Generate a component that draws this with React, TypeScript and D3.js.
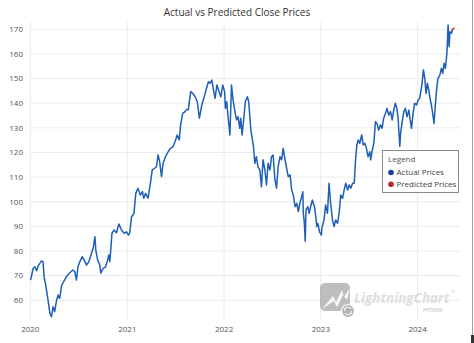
import React from "react";
import * as d3 from "d3";

const actualDates: string[] = [
  "2020-01-02","2020-01-12","2020-01-18","2020-01-25","2020-01-31","2020-02-12","2020-02-18","2020-02-22","2020-02-27","2020-03-06",
  "2020-03-15","2020-03-21","2020-03-27","2020-04-02","2020-04-09","2020-04-15","2020-04-21","2020-04-28","2020-05-08","2020-05-17",
  "2020-05-29","2020-06-10","2020-06-17","2020-06-23","2020-06-29","2020-07-06","2020-07-15","2020-07-22","2020-07-31","2020-08-09",
  "2020-08-17","2020-08-25","2020-09-01","2020-09-04","2020-09-11","2020-09-19","2020-09-23","2020-10-02","2020-10-11","2020-10-19",
  "2020-10-23","2020-10-27","2020-10-31","2020-11-04","2020-11-12","2020-11-21","2020-11-30","2020-12-10","2020-12-20","2020-12-29",
  "2021-01-05","2021-01-10","2021-01-17","2021-01-26","2021-02-02","2021-02-10","2021-02-19","2021-02-27","2021-03-04","2021-03-11",
  "2021-03-20","2021-03-29","2021-04-05","2021-04-14","2021-04-21","2021-04-27","2021-05-03","2021-05-10","2021-05-16","2021-05-25",
  "2021-06-04","2021-06-13","2021-06-23","2021-07-02","2021-07-08","2021-07-16","2021-07-21","2021-07-29","2021-08-07","2021-08-13",
  "2021-08-19","2021-08-28","2021-09-05","2021-09-14","2021-09-22","2021-09-30","2021-10-09","2021-10-18","2021-10-25","2021-11-03",
  "2021-11-09","2021-11-16","2021-11-22","2021-11-28","2021-12-05","2021-12-15","2021-12-20","2021-12-27","2022-01-03","2022-01-06",
  "2022-01-11","2022-01-16","2022-01-23","2022-01-29","2022-02-04","2022-02-10","2022-02-17","2022-02-23","2022-03-01","2022-03-05",
  "2022-03-10","2022-03-17","2022-03-22","2022-03-30","2022-04-04","2022-04-12","2022-04-16","2022-04-22","2022-04-27","2022-05-03",
  "2022-05-09","2022-05-16","2022-05-22","2022-05-28","2022-06-04","2022-06-10","2022-06-16","2022-06-23","2022-06-29","2022-07-05",
  "2022-07-12","2022-07-18","2022-07-24","2022-07-31","2022-08-06","2022-08-12","2022-08-19","2022-08-25","2022-08-31","2022-09-07",
  "2022-09-13","2022-09-19","2022-09-26","2022-10-02","2022-10-08","2022-10-15","2022-10-21","2022-10-25","2022-10-27","2022-10-31",
  "2022-11-03","2022-11-06","2022-11-13","2022-11-18","2022-11-25","2022-11-30","2022-12-08","2022-12-13","2022-12-17","2022-12-21",
  "2022-12-27","2023-01-03","2023-01-05","2023-01-13","2023-01-19","2023-01-26","2023-02-01","2023-02-07","2023-02-14","2023-02-20",
  "2023-02-26","2023-03-05","2023-03-11","2023-03-17","2023-03-24","2023-03-30","2023-04-05","2023-04-12","2023-04-18","2023-04-24",
  "2023-05-01","2023-05-07","2023-05-12","2023-05-17","2023-05-22","2023-05-28","2023-06-04","2023-06-10","2023-06-16","2023-06-22",
  "2023-06-28","2023-07-05","2023-07-08","2023-07-13","2023-07-20","2023-07-26","2023-08-01","2023-08-07","2023-08-14","2023-08-20",
  "2023-08-26","2023-09-02","2023-09-08","2023-09-14","2023-09-21","2023-09-27","2023-10-03","2023-10-09","2023-10-15","2023-10-19",
  "2023-10-26","2023-10-29","2023-11-03","2023-11-10","2023-11-16","2023-11-22","2023-11-29","2023-12-04","2023-12-09","2023-12-15",
  "2023-12-21","2023-12-28","2024-01-03","2024-01-09","2024-01-13","2024-01-18","2024-01-23","2024-01-28","2024-02-02","2024-02-07",
  "2024-02-12","2024-02-17","2024-02-22","2024-02-27","2024-03-03","2024-03-08","2024-03-13","2024-03-18","2024-03-25","2024-03-31",
  "2024-04-05","2024-04-10","2024-04-15","2024-04-20","2024-04-22","2024-04-25","2024-04-29","2024-05-02","2024-05-08","2024-05-11",
  "2024-05-17"
];

const actualValues: number[] = [
  68.2,73,73.6,72,74,76,75.7,69.6,66.9,61.5,
  54.7,53.3,57.4,55.4,60,62.1,60.8,66,68,69.7,
  71.2,72.3,71.6,68.2,73.6,75.7,77.7,76.4,74.3,75.7,
  78.4,81.1,85.8,80.4,76.4,74.3,71,73,73.6,76.4,
  78.4,75.7,81.1,87.2,88.5,87.4,91,88.5,87.2,87.8,
  86.5,87.4,93.9,95.3,103.4,105.5,102.7,104.1,101.4,103.4,
  101.4,107.5,112.9,113.6,114.2,119,116.3,110.2,115.6,118.3,
  120.3,121.7,122.4,125.1,127.1,125.1,131.2,135.9,136.6,137.5,
  137.3,144.7,144,142.6,140.6,133.9,139.3,142.6,145.4,148.7,
  148.1,149.4,145.4,142,147.4,144,142.6,147.4,144.7,137.9,
  140.6,134.5,127.1,147.4,141.3,137.2,133.2,134.5,129.8,133.9,
  127.1,134.5,140.6,142.6,140.6,129.1,126.4,122.4,115.6,118.3,
  114.2,112.9,106.1,117,112.9,106.8,115.6,112.9,118.3,119,
  108.8,105.5,114.2,118.3,117,121.7,117,113.6,110.2,110.9,
  104.8,102.7,98,99.4,96,100,102,104.1,95.3,91.2,
  84,96.7,98,95.3,98.7,100.7,98,93.9,89.9,91.2,
  87.8,86.5,89.2,92.6,98.7,95.3,107.5,99.4,92.6,89.9,
  92.6,91.2,95.3,102.7,101.4,104.8,107.5,104.8,106.8,105.5,
  107.5,107.5,117,123.1,125.1,123.7,127.1,123.1,123.7,121.7,
  118.3,120.3,117,120.3,123.7,132.5,131.8,129.1,131.2,129.8,
  133.9,135.9,137.9,135.2,136.6,133.2,137.2,140,137.9,134.5,
  122.4,127.8,131.8,136.6,137.9,134.5,137.2,133.2,129.8,135.9,
  140,139.3,141.3,142,144.7,148.1,153.5,150.1,144,148.1,
  145.4,142,139.3,135.9,131.8,139.3,146,150.1,151.4,154.2,
  152.1,156.2,154.2,159.6,163.6,171.7,162.9,169,168.4,169.7,
  170.4
];

const predictedDates: string[] = ["2024-05-08", "2024-05-13", "2024-05-20"];
const predictedValues: number[] = [169.4, 170.1, 170.6];

const yTicks: number[] = [60, 70, 80, 90, 100, 110, 120, 130, 140, 150, 160, 170];
const xTickLabels: string[] = ["2020", "2021", "2022", "2023", "2024"];

const W = 474;
const H = 343;
const FONT = "'Open Sans', 'Noto Sans', sans-serif";

export default function App() {
  const parse = d3.timeParse("%Y-%m-%d");
  const x = d3
    .scaleTime()
    .domain([parse("2020-01-01")!, parse("2024-06-09")!])
    .range([30.3, 460]);
  const y = d3.scaleLinear().domain([52, 173]).range([320, 21.9]);

  const actual = actualDates.map((d, i) => ({ d: parse(d)!, v: actualValues[i] }));
  const predicted = predictedDates.map((d, i) => ({ d: parse(d)!, v: predictedValues[i] }));
  const line = d3
    .line<{ d: Date; v: number }>()
    .x((p) => x(p.d))
    .y((p) => y(p.v));

  const xTicks = xTickLabels.map((t) => parse(`${t}-01-01`)!);
  const [x0, x1] = x.range();
  const [yb, yt] = y.range();

  return (
    <svg
      width={W}
      height={H}
      style={{ position: "absolute", left: 0, top: 0, background: "#fff" }}
    >
      <rect x={0} y={0} width={W} height={H} fill="#fff" />
      <text
        x={237}
        y={16}
        textAnchor="middle"
        fontFamily={FONT}
        fontSize={10}
        fill="#333"
      >
        Actual vs Predicted Close Prices
      </text>

      {/* grid */}
      {yTicks.map((t) => (
        <line key={`gy${t}`} x1={x0} x2={x1} y1={y(t)} y2={y(t)} stroke="#ebebeb" strokeWidth={1} />
      ))}
      {xTicks.map((t, i) => (
        <line key={`gx${i}`} x1={x(t)} x2={x(t)} y1={yt} y2={yb} stroke="#ebebeb" strokeWidth={1} />
      ))}

      {/* y labels */}
      {yTicks.map((t) => (
        <text
          key={`ly${t}`}
          x={23}
          y={y(t)}
          dy="0.35em"
          textAnchor="end"
          fontFamily={FONT}
          fontSize={8}
          fill="#555"
        >
          {t}
        </text>
      ))}
      {/* x labels */}
      {xTicks.map((t, i) => (
        <text
          key={`lx${i}`}
          x={x(t)}
          y={332}
          textAnchor="middle"
          fontFamily={FONT}
          fontSize={8}
          fill="#555"
        >
          {xTickLabels[i]}
        </text>
      ))}

      {/* watermark */}
      <g opacity={0.7}>
        <rect x={320} y={283} width={30} height={28} rx={5} fill="#a3a3a3" />
        <path d="M322,309 L333,296 L336,302 L342,290 L344,297 L350,288 L347,300 L343,295 L337,307 L334,301 Z" fill="#f4f4f4" />
        <circle cx={348} cy={311} r={6.5} fill="#939393" stroke="#fff" strokeWidth={1.2} />
        <path d="M344.5,311 a3.5,3.5 0 0 1 6.5,-2 M351.5,311 a3.5,3.5 0 0 1 -6.5,2" stroke="#eee" strokeWidth={1.2} fill="none" />
        <text
          x={354}
          y={303}
          fontFamily="'Open Sans', sans-serif"
          fontStyle="italic"
          fontWeight={700}
          fontSize={13.5}
          fill="#d2d2d2"
        >
          LightningChart
        </text>
        <text x={451} y={294} fontFamily={FONT} fontSize={5} fill="#d2d2d2">®</text>
        <text
          x={423}
          y={312}
          fontFamily={FONT}
          fontStyle="italic"
          fontWeight={700}
          fontSize={5}
          fill="#c0c0c0"
        >
          PYTHON
        </text>
      </g>

      {/* series */}
      <path d={line(actual) ?? ""} fill="none" stroke="#1d5fb6" strokeWidth={1.5} strokeLinejoin="round" />
      <path d={line(predicted) ?? ""} fill="none" stroke="#c0392b" strokeWidth={1.2} />

      {/* legend */}
      <g>
        <rect x={382.5} y={150.5} width={76} height={42} fill="#fff" stroke="#8a8a8a" strokeWidth={1} />
        <text x={388} y={162} fontFamily={FONT} fontSize={8} fill="#555">
          Legend
        </text>
        <circle cx={391} cy={172.5} r={2.8} fill="#1a3f99" />
        <text x={396.5} y={175.3} fontFamily={FONT} fontSize={8} fill="#444">
          Actual Prices
        </text>
        <circle cx={391} cy={184.3} r={2.8} fill="#b8262a" />
        <text x={396.5} y={187} fontFamily={FONT} fontSize={8} fill="#444">
          Predicted Prices
        </text>
      </g>

      {/* right frame edge */}
      <line x1={472.5} x2={472.5} y1={0} y2={H} stroke="#a0a0a0" strokeWidth={1} />
      <rect x={471} y={335} width={3} height={8} fill="#333" />
    </svg>
  );
}
